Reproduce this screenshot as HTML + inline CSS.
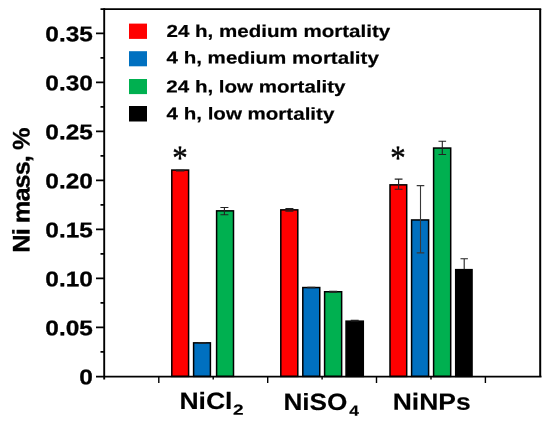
<!DOCTYPE html>
<html lang="en">
<head>
<meta charset="utf-8">
<title>Ni mass chart</title>
<style>
html,body{margin:0;padding:0;background:#fff;}
body{width:550px;height:425px;overflow:hidden;}
svg{display:block;}
text{font-family:"Liberation Sans", Arial, Helvetica, sans-serif;font-weight:bold;fill:#000;text-rendering:geometricPrecision;}
</style>
</head>
<body>
<svg width="550" height="425" viewBox="0 0 550 425">
<rect x="0" y="0" width="550" height="425" fill="#ffffff"/>
<g id="bars" stroke="#000" stroke-width="1.5">
<rect x="171.80" y="170.05" width="16.80" height="206.35" fill="#ff0000"/>
<rect x="193.60" y="342.85" width="16.80" height="33.55" fill="#0070c0"/>
<rect x="216.60" y="210.85" width="16.90" height="165.55" fill="#00b050"/>
<rect x="280.80" y="209.85" width="17.00" height="166.55" fill="#ff0000"/>
<rect x="302.80" y="287.55" width="16.95" height="88.85" fill="#0070c0"/>
<rect x="324.60" y="291.75" width="17.05" height="84.65" fill="#00b050"/>
<rect x="346.05" y="321.15" width="17.25" height="55.25" fill="#000000"/>
<rect x="390.00" y="184.85" width="16.70" height="191.55" fill="#ff0000"/>
<rect x="411.60" y="219.95" width="17.00" height="156.45" fill="#0070c0"/>
<rect x="433.60" y="148.05" width="17.10" height="228.35" fill="#00b050"/>
<rect x="455.70" y="269.65" width="16.35" height="106.75" fill="#000000"/>
</g>
<g id="errors" fill="none" stroke-width="1.1">
<path d="M176.00 170.20H184.40M180.20 170.20V171.00M176.00 171.00H184.40" stroke="#222"/>
<path d="M220.40 207.50H228.40M224.40 207.50V214.80M220.40 214.80H228.40" stroke="#222"/>
<path d="M285.40 208.60H293.40M289.40 208.60V211.20M285.40 211.20H293.40" stroke="#222"/>
<path d="M394.70 179.10H402.50M398.60 179.10V189.30M394.70 189.30H402.50" stroke="#222"/>
<path d="M416.70 185.60H424.30M420.50 185.60V252.90M416.70 252.90H424.30" stroke="#383838"/>
<path d="M438.50 141.30H446.10M442.30 141.30V154.50M438.50 154.50H446.10" stroke="#222"/>
<path d="M460.50 258.70H467.90M464.20 258.70V269.20" stroke="#222"/>
<path d="M198.20 342.50H206.20M202.20 342.50V343.10M198.20 343.10H206.20" stroke="#222"/>
<path d="M307.30 287.20H315.30M311.30 287.20V287.60M307.30 287.60H315.30" stroke="#222"/>
<path d="M329.20 291.20H337.20M333.20 291.20V292.20M329.20 292.20H337.20" stroke="#222"/>
<path d="M350.70 320.30H358.70M354.70 320.30V321.00M350.70 321.00H358.70" stroke="#222"/>
</g>
<g id="axes" stroke="#000" fill="none">
<path d="M104.20 8.20V379.40" stroke-width="1.9"/>
<path d="M96.00 376.55H541.50" stroke-width="1.7"/>
<path d="M100.50 9.05H541.20" stroke-width="1.7"/>
<path d="M540.20 9.05V376.55" stroke-width="2.0"/>
<path d="M96.00 327.40H104.00M96.00 278.40H104.00M96.00 229.40H104.00M96.00 180.40H104.00M96.00 131.40H104.00M96.00 82.40H104.00M96.00 33.40H104.00" stroke-width="1.9"/>
<path d="M100.50 351.90H104.00M100.50 302.90H104.00M100.50 253.90H104.00M100.50 204.90H104.00M100.50 155.90H104.00M100.50 106.90H104.00M100.50 57.90H104.00" stroke-width="1.6"/>
<path d="M158.80 376.40V383.00M267.70 376.40V383.00M376.50 376.40V383.00M485.40 376.40V383.00M213.20 376.40V379.40M322.10 376.40V379.40M431.00 376.40V379.40" stroke-width="1.4"/>
</g>
<g id="legend-swatches">
<rect x="129.00" y="23.60" width="18.00" height="15.30" fill="#ff0000"/>
<rect x="129.00" y="51.20" width="18.00" height="15.10" fill="#0070c0"/>
<rect x="129.00" y="79.00" width="18.00" height="15.10" fill="#00b050"/>
<rect x="129.00" y="106.00" width="18.00" height="15.50" fill="#000000"/>
</g>
<g id="labels">
<text transform="translate(92.80 384.20) rotate(0.03) scale(1.1500 1.0000)" font-size="21.2" text-anchor="end" style="stroke:#000;stroke-width:0.3;stroke-linejoin:round;">0</text>
<text transform="translate(92.80 335.20) rotate(0.03) scale(1.1500 1.0000)" font-size="21.2" text-anchor="end" style="stroke:#000;stroke-width:0.3;stroke-linejoin:round;">0.05</text>
<text transform="translate(92.80 286.20) rotate(0.03) scale(1.1500 1.0000)" font-size="21.2" text-anchor="end" style="stroke:#000;stroke-width:0.3;stroke-linejoin:round;">0.10</text>
<text transform="translate(92.80 237.20) rotate(0.03) scale(1.1500 1.0000)" font-size="21.2" text-anchor="end" style="stroke:#000;stroke-width:0.3;stroke-linejoin:round;">0.15</text>
<text transform="translate(92.80 188.20) rotate(0.03) scale(1.1500 1.0000)" font-size="21.2" text-anchor="end" style="stroke:#000;stroke-width:0.3;stroke-linejoin:round;">0.20</text>
<text transform="translate(92.80 139.20) rotate(0.03) scale(1.1500 1.0000)" font-size="21.2" text-anchor="end" style="stroke:#000;stroke-width:0.3;stroke-linejoin:round;">0.25</text>
<text transform="translate(92.80 90.20) rotate(0.03) scale(1.1500 1.0000)" font-size="21.2" text-anchor="end" style="stroke:#000;stroke-width:0.3;stroke-linejoin:round;">0.30</text>
<text transform="translate(92.80 41.20) rotate(0.03) scale(1.1500 1.0000)" font-size="21.2" text-anchor="end" style="stroke:#000;stroke-width:0.3;stroke-linejoin:round;">0.35</text>
<text transform="translate(29.50 190.55) rotate(-89.97) scale(1.0580 1.0000)" font-size="24.0" text-anchor="middle" style="letter-spacing:-0.92px;stroke:#000;stroke-width:0.3;stroke-linejoin:round;">Ni mass, %</text>
<text transform="translate(166.47 37.00) rotate(0.03) scale(1.1885 1.0000)" font-size="17.3" text-anchor="start" style="stroke:#000;stroke-width:0.2;stroke-linejoin:round;">24 h, medium mortality</text>
<text transform="translate(166.53 63.59) rotate(0.03) scale(1.1885 1.0000)" font-size="17.3" text-anchor="start" style="stroke:#000;stroke-width:0.2;stroke-linejoin:round;">4 h, medium mortality</text>
<text transform="translate(166.33 92.40) rotate(0.03) scale(1.1885 1.0000)" font-size="17.3" text-anchor="start" style="stroke:#000;stroke-width:0.2;stroke-linejoin:round;">24 h, low mortality</text>
<text transform="translate(166.54 119.57) rotate(0.03) scale(1.1885 1.0000)" font-size="17.3" text-anchor="start" style="stroke:#000;stroke-width:0.2;stroke-linejoin:round;">4 h, low mortality</text>
<text transform="translate(179.38 409.08) rotate(0.03) scale(1.1262 1.0000)" font-size="23.572" text-anchor="start" style="stroke:#000;stroke-width:0.15;stroke-linejoin:round;">NiCl</text>
<text transform="translate(233.03 414.84) rotate(0.03) scale(1.3068 1.0000)" font-size="14.592" text-anchor="start" style="stroke:#000;stroke-width:0.15;stroke-linejoin:round;">2</text>
<text transform="translate(283.43 409.96) rotate(0.03) scale(1.1141 1.0000)" font-size="23.511" text-anchor="start" style="stroke:#000;stroke-width:0.15;stroke-linejoin:round;">NiSO</text>
<text transform="translate(349.34 415.81) rotate(0.03) scale(1.1652 1.0000)" font-size="14.922" text-anchor="start" style="stroke:#000;stroke-width:0.15;stroke-linejoin:round;">4</text>
<text transform="translate(392.75 409.83) rotate(0.03) scale(1.1305 1.0000)" font-size="23.384" text-anchor="start" style="stroke:#000;stroke-width:0.15;stroke-linejoin:round;">NiNPs</text>
<text transform="translate(179.88 169.47) rotate(0.03) scale(0.9046 1.0000)" font-size="34.041" text-anchor="middle" style="font-weight:normal;font-family:'Liberation Serif', 'Times New Roman', serif;stroke:#000;stroke-width:0.45;stroke-linejoin:round;">*</text>
<text transform="translate(397.88 169.47) rotate(0.03) scale(0.9046 1.0000)" font-size="34.041" text-anchor="middle" style="font-weight:normal;font-family:'Liberation Serif', 'Times New Roman', serif;stroke:#000;stroke-width:0.45;stroke-linejoin:round;">*</text>
</g>
</svg>
</body>
</html>
